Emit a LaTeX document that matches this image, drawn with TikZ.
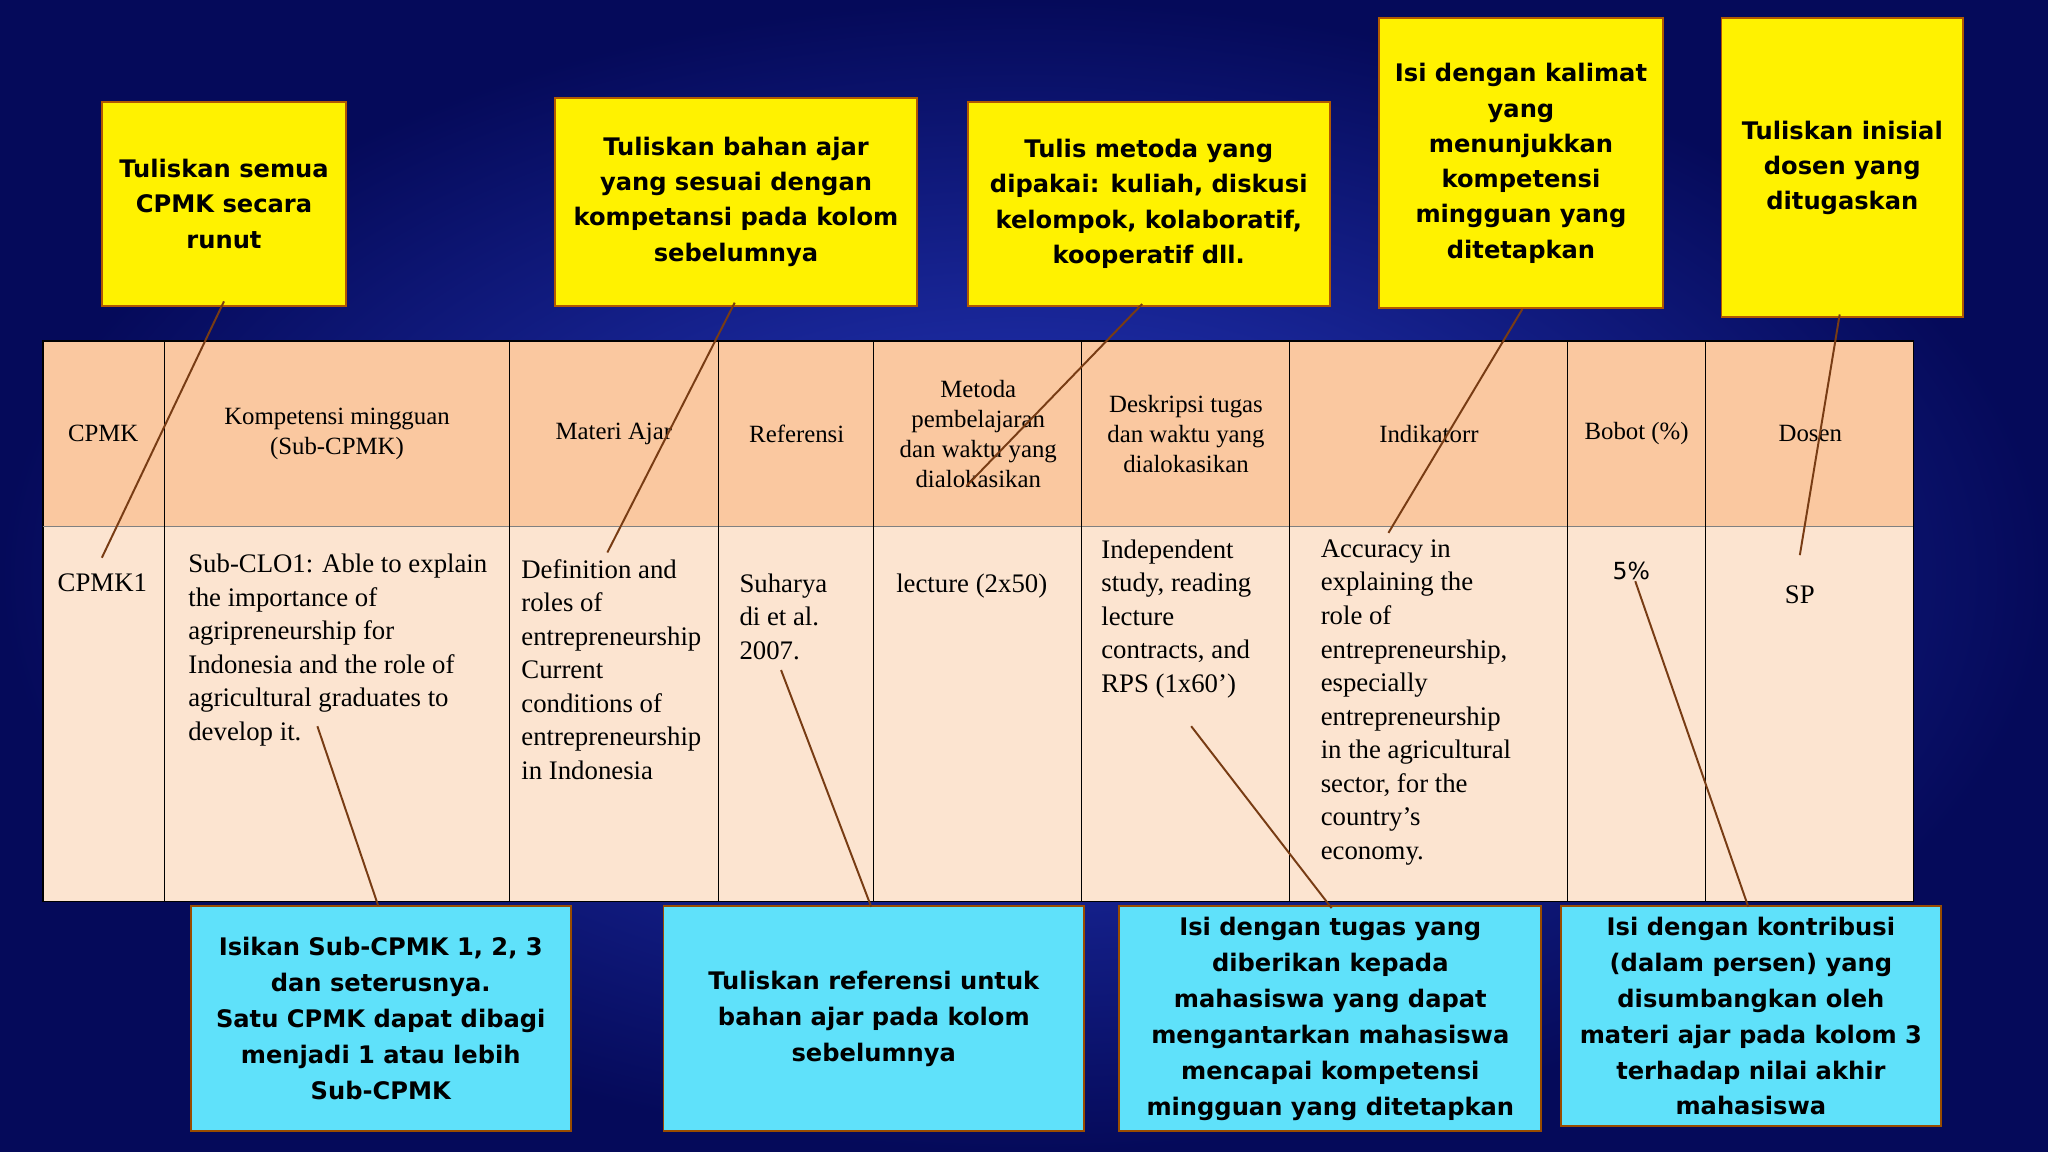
\documentclass[tikz,border=0pt]{standalone}
\usepackage{fontspec}
\setmainfont{Liberation Serif}
\newfontfamily\boxfont{DejaVu Sans}
\definecolor{hdc}{RGB}{250,200,160}
\definecolor{bdc}{RGB}{252,228,208}
\definecolor{cyb}{RGB}{95,225,250}
\definecolor{lnc}{RGB}{120,60,20}
\definecolor{bgin}{RGB}{40,60,200}
\definecolor{bgout}{RGB}{5,10,90}
\begin{document}
\begin{tikzpicture}[x=1pt,y=-1pt,
 ybox/.style={draw=orange!70!black,line width=1.5pt,fill=yellow,font=\boxfont\bfseries\fontsize{18.5}{27}\selectfont,align=center,inner sep=0pt},
 cbox/.style={draw=orange!60!black,line width=1.5pt,fill=cyb,font=\boxfont\bfseries\fontsize{18.5}{27.5}\selectfont,align=center,inner sep=0pt},
 hd/.style={font=\fontsize{19}{23}\selectfont,align=center},
 bd/.style={font=\fontsize{20.5}{25.7}\selectfont,align=left,anchor=north west,inner sep=0pt},
 ln/.style={draw=lnc,line width=1.5pt}]
\useasboundingbox (0,0) rectangle (1568,882);
\shade[inner color=bgin,outer color=bgout] (0,0) rectangle (1568,882);
% table
\fill[hdc] (33,261) rectangle (1465,403);
\fill[bdc] (33,403) rectangle (1465,690);
\draw[line width=1pt] (33,261) rectangle (1465,690);
\draw[line width=0.8pt,gray] (33,403) -- (1465,403);
\foreach \x in {126,390,550,669,828,987,1200,1306} \draw[line width=1pt] (\x,261) -- (\x,690);
\node[hd] (h1) at (79,332) {CPMK};
\node[hd] (h2) at (258,332) {Kompetensi mingguan\\(Sub-CPMK)};
\node[hd] (h3) at (470,332) {Materi Ajar};
\node[hd] (h4) at (610,332) {Referensi};
\node[hd] (h5) at (749,332) {Metoda\\pembelajaran\\dan waktu yang\\dialokasikan};
\node[hd] (h6) at (908,332) {Deskripsi tugas\\dan waktu yang\\dialokasikan};
\node[hd] (h7) at (1094,332) {Indikatorr};
\node[hd] (h8) at (1253,332) {Bobot (\%)};
\node[hd] (h9) at (1386,332) {Dosen};
\node[bd] (b1) at (44,439) {CPMK1};
\node[bd] (b2) at (144,424) {Sub-CLO1: Able to explain\\the importance of\\agripreneurship for\\Indonesia and the role of\\agricultural graduates to\\develop it.};
\node[bd] (b3) at (399,428) {Definition and\\roles of\\entrepreneurship\\Current\\conditions of\\entrepreneurship\\in Indonesia};
\node[bd] (b4) at (566,439) {Suharya\\di et al.\\2007.};
\node[bd] (b5) at (686,439) {lecture (2x50)};
\node[bd] (b6) at (843,413) {Independent\\study, reading\\lecture\\contracts, and\\RPS (1x60')};
\node[bd] (b7) at (1011,413) {Accuracy in\\explaining the\\role of\\entrepreneurship,\\especially\\entrepreneurship\\in the agricultural\\sector, for the\\country's\\economy.};
\node[font=\boxfont\fontsize{18}{20}\selectfont] (b8) at (1249,437) {5\%};
\node[font=\fontsize{20.5}{24}\selectfont] (b9) at (1378,455) {SP};
% yellow boxes
\node[ybox,minimum width=187,minimum height=156] (y1) at (171.5,156) {Tuliskan semua\\CPMK secara\\runut};
\node[ybox,minimum width=277,minimum height=159] (y2) at (563.5,154.5) {Tuliskan bahan ajar\\yang sesuai dengan\\kompetansi pada kolom\\sebelumnya};
\node[ybox,minimum width=277,minimum height=156] (y3) at (879.5,156) {Tulis metoda yang\\dipakai: kuliah, diskusi\\kelompok, kolaboratif,\\kooperatif dll.};
\node[ybox,minimum width=217,minimum height=222] (y4) at (1164.5,125) {Isi dengan kalimat\\yang\\menunjukkan\\kompetensi\\mingguan yang\\ditetapkan};
\node[ybox,minimum width=185,minimum height=229] (y5) at (1410.5,128.5) {Tuliskan inisial\\dosen yang\\ditugaskan};
% cyan boxes
\node[cbox,minimum width=291,minimum height=172] (c1) at (291.5,780) {Isikan Sub-CPMK 1, 2, 3\\dan seterusnya.\\Satu CPMK dapat dibagi\\menjadi 1 atau lebih\\Sub-CPMK};
\node[cbox,minimum width=322,minimum height=172] (c2) at (669,780) {Tuliskan referensi untuk\\bahan ajar pada kolom\\sebelumnya};
\node[cbox,minimum width=323,minimum height=172] (c3) at (1018.5,780) {Isi dengan tugas yang\\diberikan kepada\\mahasiswa yang dapat\\mengantarkan mahasiswa\\mencapai kompetensi\\mingguan yang ditetapkan};
\node[cbox,minimum width=291,minimum height=168] (c4) at (1340.5,778) {Isi dengan kontribusi\\(dalam persen) yang\\disumbangkan oleh\\materi ajar pada kolom 3\\terhadap nilai akhir\\mahasiswa};
% connector endpoints
\coordinate (e1) at (78,427);
\coordinate (e2) at (465,423);
\coordinate (e3) at (740,372);
\coordinate (e4) at (1063,408);
\coordinate (e5) at (1378,425);
\coordinate (f1) at (243,556);
\coordinate (f2) at (598,513);
\coordinate (f3) at (912,556);
\coordinate (f4) at (1252,445);
\draw[ln] ([yshift=4pt]y1.south) -- (e1);
\draw[ln] ([xshift=-1pt,yshift=3pt]y2.south) -- (e2);
\draw[ln] ([xshift=-5pt,yshift=2pt]y3.south) -- (e3);
\draw[ln] ([xshift=1pt]y4.south) -- (e4);
\draw[ln] ([xshift=-2pt,yshift=3pt]y5.south) -- (e5);
\draw[ln] ([xshift=-2pt]c1.north) -- (f1);
\draw[ln] ([xshift=-2pt,yshift=-1pt]c2.north) -- (f2);
\draw[ln] ([xshift=1pt,yshift=-2pt]c3.north) -- (f3);
\draw[ln] ([xshift=-2pt,yshift=-1pt]c4.north) -- (f4);
\end{tikzpicture}
\end{document}
